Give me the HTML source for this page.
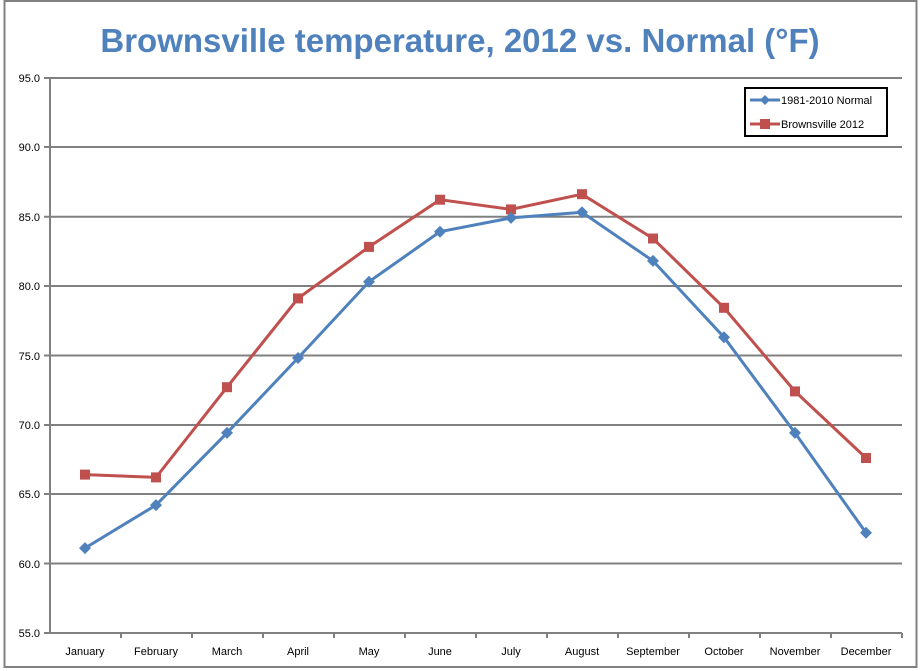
<!DOCTYPE html>
<html><head><style>body{margin:0;background:#fff}svg{display:block}</style></head><body>
<svg width="920" height="671" xmlns="http://www.w3.org/2000/svg" font-family="Liberation Sans, sans-serif">
<rect x="0" y="0" width="920" height="671" fill="#fff"/>
<rect x="4.5" y="1" width="912" height="666" fill="none" stroke="#808080" stroke-width="2"/>
<text x="460" y="52" text-anchor="middle" font-size="33" font-weight="bold" fill="#4f81bd">Brownsville temperature, 2012 vs. Normal (°F)</text>
<g stroke="#808080" stroke-width="2">
<line x1="44" y1="78" x2="902" y2="78"/><line x1="44" y1="147" x2="902" y2="147"/>
<line x1="44" y1="216.75" x2="902" y2="216.75"/><line x1="44" y1="286" x2="902" y2="286"/>
<line x1="44" y1="355.5" x2="902" y2="355.5"/><line x1="44" y1="425" x2="902" y2="425"/>
<line x1="44" y1="494" x2="902" y2="494"/><line x1="44" y1="563.5" x2="902" y2="563.5"/>
<line x1="44" y1="633" x2="902" y2="633"/>
<line x1="50" y1="78" x2="50" y2="633"/>
<line x1="121" y1="633" x2="121" y2="638"/><line x1="192" y1="633" x2="192" y2="638"/><line x1="263" y1="633" x2="263" y2="638"/><line x1="334" y1="633" x2="334" y2="638"/><line x1="405" y1="633" x2="405" y2="638"/><line x1="476" y1="633" x2="476" y2="638"/><line x1="547" y1="633" x2="547" y2="638"/><line x1="618" y1="633" x2="618" y2="638"/><line x1="689" y1="633" x2="689" y2="638"/><line x1="760" y1="633" x2="760" y2="638"/><line x1="831" y1="633" x2="831" y2="638"/><line x1="902" y1="633" x2="902" y2="638"/>
</g>
<g font-size="11" text-anchor="end" fill="#000">
<text x="40" y="82">95.0</text><text x="40" y="151">90.0</text><text x="40" y="221">85.0</text><text x="40" y="290">80.0</text><text x="40" y="360">75.0</text><text x="40" y="429">70.0</text><text x="40" y="498">65.0</text><text x="40" y="568">60.0</text><text x="40" y="637">55.0</text>
</g>
<g font-size="11" text-anchor="middle" fill="#000">
<text x="85" y="655">January</text><text x="156" y="655">February</text><text x="227" y="655">March</text><text x="298" y="655">April</text><text x="369" y="655">May</text><text x="440" y="655">June</text><text x="511" y="655">July</text><text x="582" y="655">August</text><text x="653" y="655">September</text><text x="724" y="655">October</text><text x="795" y="655">November</text><text x="866" y="655">December</text>
</g>
<polyline fill="none" stroke="#c0504d" stroke-width="3" points="85,474.6 156,477.4 227,387.2 298,298.4 369,246.9 440,199.7 511,209.4 582,194.2 653,238.5 724,307.8 795,391.4 866,458"/>
<g fill="#c0504d">
<rect x="80" y="469.6" width="10" height="10"/><rect x="151" y="472.4" width="10" height="10"/><rect x="222" y="382.2" width="10" height="10"/><rect x="293" y="293.4" width="10" height="10"/><rect x="364" y="241.9" width="10" height="10"/><rect x="435" y="194.7" width="10" height="10"/><rect x="506" y="204.4" width="10" height="10"/><rect x="577" y="189.2" width="10" height="10"/><rect x="648" y="233.5" width="10" height="10"/><rect x="719" y="302.8" width="10" height="10"/><rect x="790" y="386.4" width="10" height="10"/><rect x="861" y="453" width="10" height="10"/>
</g>
<polyline fill="none" stroke="#4f81bd" stroke-width="3" points="85,548.1 156,505.1 227,432.9 298,358 369,281.7 440,231.7 511,217.9 582,212.3 653,260.9 724,337.2 795,432.9 866,532.8"/>
<g fill="#4f81bd">
<path d="M85,542.1l6,6l-6,6l-6-6z"/><path d="M156,499.1l6,6l-6,6l-6-6z"/><path d="M227,426.9l6,6l-6,6l-6-6z"/><path d="M298,352l6,6l-6,6l-6-6z"/><path d="M369,275.7l6,6l-6,6l-6-6z"/><path d="M440,225.7l6,6l-6,6l-6-6z"/><path d="M511,211.9l6,6l-6,6l-6-6z"/><path d="M582,206.3l6,6l-6,6l-6-6z"/><path d="M653,254.9l6,6l-6,6l-6-6z"/><path d="M724,331.2l6,6l-6,6l-6-6z"/><path d="M795,426.9l6,6l-6,6l-6-6z"/><path d="M866,526.8l6,6l-6,6l-6-6z"/>
</g>
<rect x="745" y="88" width="142" height="48" fill="#fff" stroke="#000" stroke-width="2"/>
<line x1="750" y1="100" x2="780" y2="100" stroke="#4f81bd" stroke-width="3"/>
<path d="M765,95l5,5l-5,5l-5-5z" fill="#4f81bd"/>
<line x1="750" y1="124" x2="780" y2="124" stroke="#c0504d" stroke-width="3"/>
<rect x="760" y="119" width="10" height="10" fill="#c0504d"/>
<text x="781" y="104" font-size="11">1981-2010 Normal</text>
<text x="781" y="128" font-size="11">Brownsville 2012</text>
</svg>
</body></html>
